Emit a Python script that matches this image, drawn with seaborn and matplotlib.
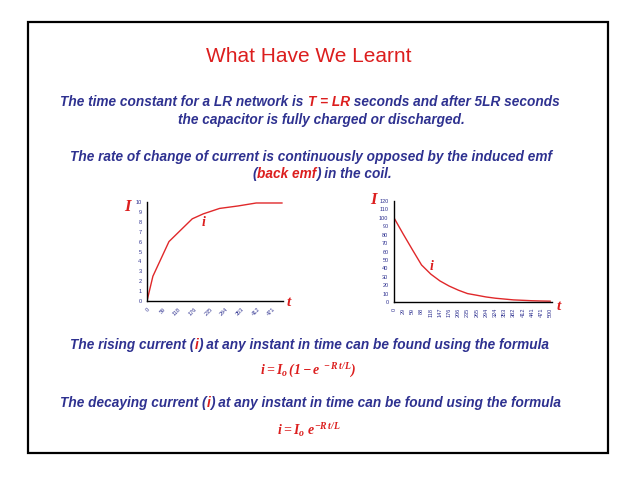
import matplotlib
matplotlib.use("Agg")
import matplotlib.pyplot as plt
import seaborn as sns
import pandas as pd
from matplotlib.patches import Rectangle

# rising current curve
rise_t = [0, 22, 82, 169, 210, 271, 340, 408, 505]
rise_i = [0, 2.5, 6.0, 8.3, 8.8, 9.35, 9.6, 9.9, 9.9]
rise_ticks = ["0", "59", "118", "176", "235", "294", "353", "412", "471"]

# decaying current curve
decay_t = [0, 29, 59, 88, 118, 147, 176, 206, 235, 265, 294, 324, 353, 382, 412, 441, 471, 500]
decay_i = [100, 81, 62, 44, 33, 25, 19, 14, 10, 8, 6, 4.5, 3.5, 2.5, 2, 1.5, 1.2, 1]
decay_ticks = [str(v) for v in decay_t]

NAVY = "#2e3190"
RED = "#dc1e1e"
W, H = 638, 479

sns.set_style("white")
plt.rcParams["font.family"] = ["Liberation Sans", "DejaVu Sans"]
plt.rcParams["mathtext.fontset"] = "custom"
plt.rcParams["mathtext.rm"] = "Liberation Serif:bold:italic"
plt.rcParams["mathtext.it"] = "Liberation Serif:bold:italic"

fig = plt.figure(figsize=(W / 100, H / 100), dpi=100)
fig.patch.set_facecolor("white")
fig.patches.append(Rectangle((28 / W, 1 - 453 / H), 580 / W, 431 / H,
                             transform=fig.transFigure, fill=False,
                             edgecolor="black", linewidth=1.6))
renderer = fig.canvas.get_renderer()


def width(s, **kw):
    t = fig.text(0, 0, s, **kw)
    w = t.get_window_extent(renderer).width
    t.remove()
    return w


def line(ypx, parts, size=9.8, cx=319):
    kw = dict(fontsize=size, fontweight="bold", fontstyle="italic")
    full = "".join(p for p, _ in parts)
    x0 = cx - width(full, **kw) / 2
    xw = width("x", **kw)
    prefix = ""
    for s, c in parts:
        off = width(prefix + "x", **kw) - xw if prefix else 0
        fig.text((x0 + off) / W, 1 - ypx / H, s, color=c, va="center", **kw)
        prefix += s


fig.text(309 / W, 1 - 57 / H, "What Have We Learnt", color=RED, fontsize=15,
         ha="center", va="center")
line(102, [("The time constant for a LR network is ", NAVY), ("T = LR", RED),
           (" seconds and after 5LR seconds", NAVY)], cx=310)
line(120, [("the capacitor is fully charged or discharged.", NAVY)], cx=321)
line(157, [("The rate of change of current is continuously opposed by the induced emf", NAVY)], cx=311)
line(174, [("(", NAVY), ("back emf", RED), (") in the coil.", NAVY)], cx=322)
line(345, [("The rising current (", NAVY), ("i", RED),
           (") at any instant in time can be found using the formula", NAVY)], cx=310)
line(403, [("The decaying current (", NAVY), ("i", RED),
           (") at any instant in time can be found using the formula", NAVY)], cx=311)
fig.text(308 / W, 1 - 371 / H, r"$i = I_o\,(1 - e^{\ -R\,t/L})$", color=RED,
         fontsize=10, ha="center", va="center")
fig.text(309 / W, 1 - 430 / H, r"$i = I_o\ e^{-R\,t/L}$", color=RED,
         fontsize=10, ha="center", va="center")


def style(ax):
    sns.despine(ax=ax)
    for sp in ["left", "bottom"]:
        ax.spines[sp].set_color("black")
        ax.spines[sp].set_linewidth(1.0)
    ax.tick_params(axis="both", labelsize=4, colors="black", labelcolor=NAVY,
                   length=2, width=0.5, direction="out", pad=2)
    ax.set_xlabel("")
    ax.set_ylabel("")
    ax.set_facecolor("white")


serif = dict(family="Liberation Serif", fontweight="bold", fontstyle="italic",
             color=RED)

# rising chart
ax1 = fig.add_axes([147 / W, 1 - 301 / H, 136 / W, 99 / H])
sns.lineplot(data=pd.DataFrame({"t": rise_t, "i": rise_i}), x="t", y="i",
             ax=ax1, color="#e0282a", linewidth=1.0)
ax1.set_xlim(0, 508)
ax1.set_ylim(0, 10)
ax1.set_yticks(range(0, 11))
ax1.set_xticks([int(v) for v in rise_ticks])
ax1.set_xticklabels(rise_ticks, rotation=45, ha="right", rotation_mode="anchor")
style(ax1)

# decaying chart
ax2 = fig.add_axes([394 / W, 1 - 302 / H, 158 / W, 101 / H])
sns.lineplot(data=pd.DataFrame({"t": decay_t, "i": decay_i}), x="t", y="i",
             ax=ax2, color="#e0282a", linewidth=1.0)
ax2.set_xlim(0, 505)
ax2.set_ylim(0, 120)
ax2.set_yticks(range(0, 121, 10))
ax2.set_xticks(decay_t)
ax2.set_xticklabels(decay_ticks, rotation=90)
style(ax2)

for x, y, s, fs in [(127, 207, "I", 12), (289, 303, "t", 11), (204, 222, "i", 10),
                    (373, 200, "I", 12), (559, 306, "t", 11), (432, 266, "i", 10)]:
    fig.text(x / W, 1 - y / H, s, fontsize=fs, ha="center", va="center", **serif)

fig.savefig("out.png", dpi=100, facecolor="white")
